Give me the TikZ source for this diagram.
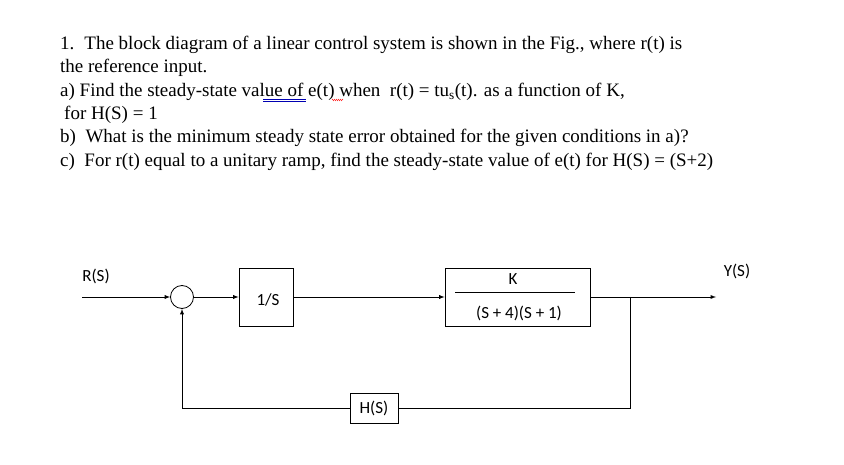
\documentclass[tikz,border=0pt]{standalone}
\usepackage{fontspec}
\usetikzlibrary{decorations.pathmorphing}
\setmainfont{Liberation Serif}
\newfontfamily\diag{Carlito}
\begin{document}
\begin{tikzpicture}[x=1pt,y=-1pt,
  txt/.style={anchor=base west,inner sep=0pt,font=\fontsize{19}{22}\selectfont},
  blk/.style={draw,line width=0.8pt,inner sep=0pt},
  lab/.style={font=\diag\fontsize{17}{20}\selectfont,inner sep=0pt},
  conn/.style={line width=0.9pt},
  arr/.style={conn,-latex}]
\useasboundingbox (0,0) rectangle (844,465);
\node[txt] (l1) at (60,50) {1.\hspace{10pt}The block diagram of a linear control system is shown in the Fig., where r(t) is};
\node[txt] (l2) at (60,73) {the reference input.};
\node[txt] (l3) at (60,97) {a) Find the steady-state value of e(t) when\ \ r(t) = tu\textsubscript{s}(t). as a function of K,};
\node[txt] (l4) at (64,120) {for H(S) = 1};
\node[txt] (l5) at (60,143) {b)\ \ What is the minimum steady state error obtained for the given conditions in a)?};
\node[txt] (l6) at (60,167) {c)\ \ For r(t) equal to a unitary ramp, find the steady-state value of e(t) for H(S) = (S+2)};
\draw[blue!70!black,line width=0.5pt] (263,99.5) -- (306,99.5) (263,101.5) -- (306,101.5);
\draw[red,line width=0.4pt,decorate,decoration={zigzag,amplitude=0.7pt,segment length=2pt}] (332,100) -- (343,100);

\node[lab] (R) at (96,276) {R(S)};
\node[lab] (Y) at (737,271) {Y(S)};
\coordinate (in) at (82,297);
\node[draw,circle,line width=0.8pt,minimum size=23pt,inner sep=0pt] (sum) at (182,297) {};
\node[blk,minimum width=54pt,minimum height=58pt] (g1) at (266,297) {};
\node[lab] at (268,300) {1/S};
\node[blk,minimum width=145pt,minimum height=58pt] (g2) at (517.5,297) {};
\node[lab] (k) at (513,279) {K};
\node[lab] (den) at (519,313) {(S + 4)(S + 1)};
\draw[line width=0.8pt] (455,292) -- (575,292);
\node[blk,minimum width=48pt,minimum height=30pt,font=\diag\fontsize{17}{20}\selectfont] (h) at (374,408) {H(S)};
\coordinate (out) at (716,297);
\coordinate (br) at (630,297);
\draw[arr] (in) -- (sum);
\draw[arr] (sum) -- (g1);
\draw[arr] (g1) -- (g2);
\draw[arr] (g2) -- (out);
\draw[conn] (br) |- (h);
\draw[arr] (h) -| (sum);
\end{tikzpicture}
\end{document}
